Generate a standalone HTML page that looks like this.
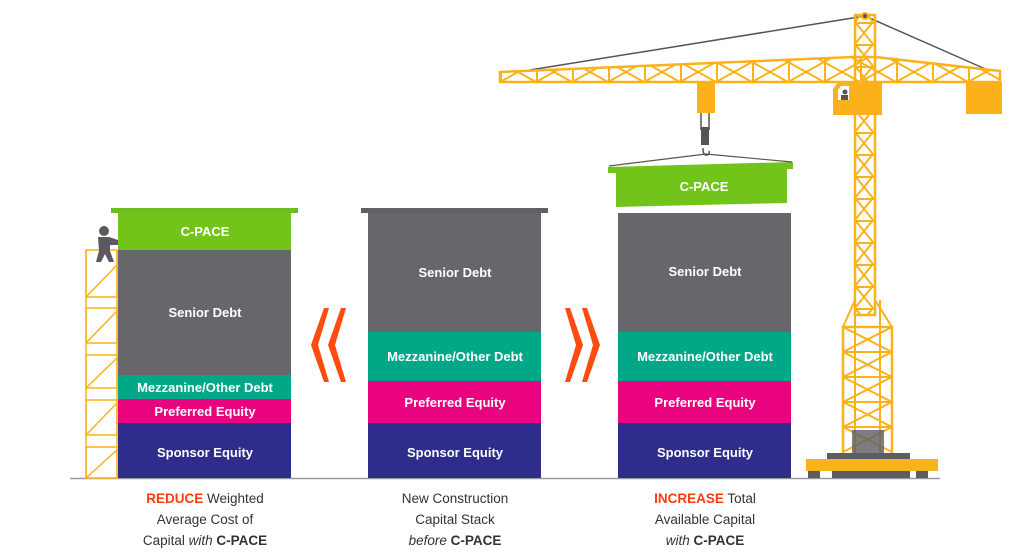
<!DOCTYPE html>
<html><head><meta charset="utf-8"><style>
html,body{margin:0;padding:0;background:#fff;width:1030px;height:560px;overflow:hidden}
svg{display:block}
text{font-family:"Liberation Sans",sans-serif}
.b{font-weight:bold;fill:#fff;font-size:13px}
.c{font-size:13.5px;fill:#333}
</style></head><body>
<svg width="1030" height="560" viewBox="0 0 1030 560">
<defs>
<pattern id="mx" width="22" height="22" patternUnits="userSpaceOnUse" x="853" y="0">
<path d="M2 0 L20 22 M20 0 L2 22 M0 1 H22" stroke="#fbb21a" stroke-width="2" fill="none"/>
</pattern>
<pattern id="jx" width="36" height="20" patternUnits="userSpaceOnUse" x="500" y="62">
<path d="M0 0 L36 20 M36 0 L0 20 M1 0 V20" stroke="#fbb21a" stroke-width="2" fill="none"/>
</pattern>
</defs>
<line x1="70" y1="478.5" x2="940" y2="478.5" stroke="#999" stroke-width="1.5"/>

<g stroke="#fbb21a" stroke-width="1.5" fill="none">
<line x1="86" y1="250" x2="86" y2="478"/><line x1="117" y1="250" x2="117" y2="478"/>
<rect x="86" y="250" width="31" height="47"/><rect x="86" y="308" width="31" height="35"/>
<rect x="86" y="355" width="31" height="33"/><rect x="86" y="400" width="31" height="35"/>
<rect x="86" y="447" width="31" height="31"/>
<line x1="86" y1="297" x2="117" y2="265"/><line x1="86" y1="343" x2="117" y2="311"/>
<line x1="86" y1="388" x2="117" y2="358"/><line x1="86" y1="435" x2="117" y2="403"/>
<line x1="86" y1="478" x2="117" y2="450"/>
</g>
<g fill="#5a5a5e">
<circle cx="104" cy="231" r="5"/>
<path d="M98 237 h11 l9 3 v5 h-8 v6 l4 11 h-5 l-4 -8 l-4 8 h-5 l3 -11 z"/>
</g>

<rect x="111" y="208" width="187" height="5" fill="#6cbd1d"/>
<rect x="118" y="213" width="173" height="37" fill="#72c41a"/>
<rect x="118" y="250" width="173" height="125" fill="#67676b"/>
<rect x="118" y="375" width="173" height="24" fill="#00a888"/>
<rect x="118" y="399" width="173" height="24" fill="#e9037f"/>
<rect x="118" y="423" width="173" height="55" fill="#2e2d8c"/>
<text class="b" x="205" y="236" text-anchor="middle">C-PACE</text>
<text class="b" x="205" y="317" text-anchor="middle">Senior Debt</text>
<text class="b" x="205" y="392" text-anchor="middle" font-size="12.5">Mezzanine/Other Debt</text>
<text class="b" x="205" y="416" text-anchor="middle">Preferred Equity</text>
<text class="b" x="205" y="457" text-anchor="middle">Sponsor Equity</text>

<rect x="361" y="208" width="187" height="5" fill="#616165"/>
<rect x="368" y="213" width="173" height="119" fill="#67676b"/>
<rect x="368" y="332" width="173" height="49" fill="#00a888"/>
<rect x="368" y="381" width="173" height="42" fill="#e9037f"/>
<rect x="368" y="423" width="173" height="55" fill="#2e2d8c"/>
<text class="b" x="455" y="277" text-anchor="middle">Senior Debt</text>
<text class="b" x="455" y="361" text-anchor="middle">Mezzanine/Other Debt</text>
<text class="b" x="455" y="407" text-anchor="middle">Preferred Equity</text>
<text class="b" x="455" y="457" text-anchor="middle">Sponsor Equity</text>

<rect x="618" y="213" width="173" height="119" fill="#67676b"/>
<rect x="618" y="332" width="173" height="49" fill="#00a888"/>
<rect x="618" y="381" width="173" height="42" fill="#e9037f"/>
<rect x="618" y="423" width="173" height="55" fill="#2e2d8c"/>
<text class="b" x="705" y="276" text-anchor="middle">Senior Debt</text>
<text class="b" x="705" y="361" text-anchor="middle">Mezzanine/Other Debt</text>
<text class="b" x="705" y="407" text-anchor="middle">Preferred Equity</text>
<text class="b" x="705" y="457" text-anchor="middle">Sponsor Equity</text>

<polygon points="608,167 793,162 793,169 787,169 787,203 616,207 616,173 608,173" fill="#72c41a"/>
<text class="b" x="704" y="191" text-anchor="middle">C-PACE</text>
<line x1="609" y1="166" x2="706" y2="154" stroke="#555" stroke-width="1.2"/>
<line x1="792" y1="162" x2="706" y2="154" stroke="#555" stroke-width="1.2"/>
<path d="M703 148 q0 8 4 7 q3 -1 2 -4" stroke="#555" stroke-width="1.5" fill="none"/>
<rect x="701" y="127" width="8" height="18" fill="#555"/>
<line x1="701" y1="113" x2="701" y2="130" stroke="#555" stroke-width="1.5"/>
<line x1="709" y1="113" x2="709" y2="130" stroke="#555" stroke-width="1.5"/>

<g fill="#ff4a10">
<polygon points="329,308 318,345 329,382 324,382 311,345 324,308"/>
<polygon points="346,308 335,345 346,382 341,382 328,345 341,308"/>
<polygon points="565,308 576,345 565,382 570,382 583,345 570,308"/>
<polygon points="582,308 593,345 582,382 587,382 600,345 587,308"/>
</g>

<line x1="530" y1="70" x2="865" y2="16" stroke="#555" stroke-width="1.5"/>
<line x1="865" y1="16" x2="990" y2="71" stroke="#555" stroke-width="1.5"/>
<polygon points="500,72 853,57 875,57 1000,71 1000,82 500,82" fill="url(#jx)"/>
<polygon points="500,72 853,57 875,57 1000,71 1000,82 500,82" fill="none" stroke="#fbb21a" stroke-width="2.5"/>
<rect x="855" y="15" width="20" height="300" fill="url(#mx)"/>
<rect x="855" y="15" width="20" height="300" fill="none" stroke="#fbb21a" stroke-width="2.5"/>
<circle cx="865" cy="16" r="4" fill="#fbb21a"/><circle cx="865" cy="16" r="2" fill="#555"/>
<rect x="843" y="327" width="49" height="135" fill="none" stroke="#fbb21a" stroke-width="2.5"/>
<g stroke="#fbb21a" stroke-width="2" fill="none">
<line x1="855" y1="300" x2="843" y2="327"/><line x1="875" y1="300" x2="892" y2="327"/>
<line x1="855" y1="300" x2="855" y2="462"/><line x1="880" y1="300" x2="880" y2="462"/>
<path d="M843 327 L892 352 M892 327 L843 352 M843 352 H892 M843 352 L892 377 M892 352 L843 377 M843 377 H892 M843 377 L892 402 M892 377 L843 402 M843 402 H892 M843 402 L892 427 M892 402 L843 427 M843 427 H892 M843 427 L892 452 M892 427 L843 452"/>
</g>
<rect x="852" y="430" width="32" height="25" fill="#5c5c62" opacity="0.8"/>
<rect x="827" y="453" width="83" height="6" fill="#5c5c62"/>
<rect x="806" y="459" width="132" height="12" fill="#fbb21a"/>
<rect x="808" y="471" width="12" height="7" fill="#5c5c62"/>
<rect x="832" y="471" width="78" height="7" fill="#5c5c62"/>
<rect x="916" y="471" width="12" height="7" fill="#5c5c62"/>
<rect x="697" y="82" width="18" height="31" fill="#fbb21a"/>
<rect x="851" y="82" width="31" height="33" fill="#fbb21a"/>
<path d="M833 115 V89 l5 -7 h13 v33 z" fill="#fbb21a"/>
<path d="M838 90 l3 -4 h8 v14 h-11z" fill="#fff"/>
<circle cx="845" cy="92" r="2.5" fill="#555"/><rect x="841" y="95" width="7" height="5" fill="#555"/>
<rect x="966" y="82" width="36" height="32" fill="#fbb21a"/>

<g class="c" text-anchor="middle">
<text x="205" y="503"><tspan fill="#ff3a10" font-weight="bold">REDUCE</tspan> Weighted</text>
<text x="205" y="524">Average Cost of</text>
<text x="205" y="545">Capital <tspan font-style="italic">with</tspan> <tspan font-weight="bold">C-PACE</tspan></text>
<text x="455" y="503">New Construction</text>
<text x="455" y="524">Capital Stack</text>
<text x="455" y="545"><tspan font-style="italic">before</tspan> <tspan font-weight="bold">C-PACE</tspan></text>
<text x="705" y="503"><tspan fill="#ff3a10" font-weight="bold">INCREASE</tspan> Total</text>
<text x="705" y="524">Available Capital</text>
<text x="705" y="545"><tspan font-style="italic">with</tspan> <tspan font-weight="bold">C-PACE</tspan></text>
</g>
</svg>
</body></html>
